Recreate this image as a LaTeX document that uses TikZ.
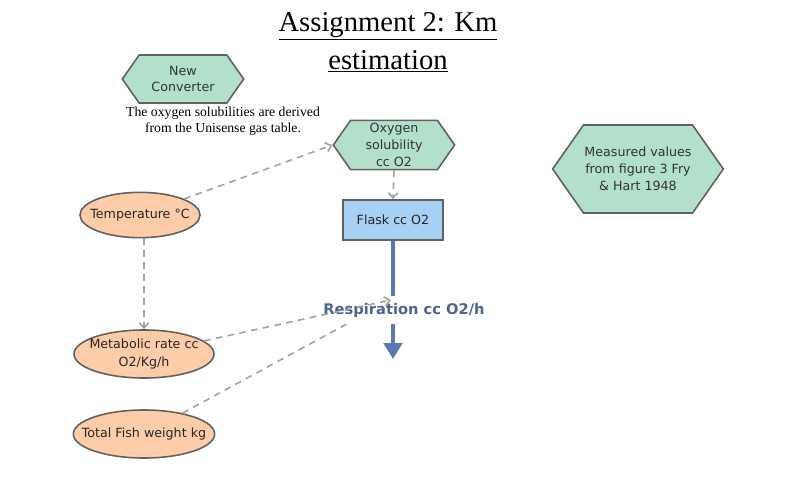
\documentclass[tikz,border=0pt]{standalone}
\usepackage{fontspec}
\setmainfont{Liberation Serif}
\newfontfamily\nodefont{DejaVu Sans}
\usetikzlibrary{shapes.geometric,shapes.symbols,arrows.meta}
\definecolor{hexfill}{HTML}{B3E0CB}
\definecolor{ellfill}{HTML}{FDCDA9}
\definecolor{boxfill}{HTML}{A7D0F5}
\definecolor{edgegray}{HTML}{626262}
\definecolor{dashgray}{HTML}{A3A3A3}
\definecolor{flowblue}{HTML}{5A78B6}
\definecolor{labelblue}{HTML}{4E6592}
\tikzset{
  hexnode/.style={shape=signal, signal to=west and east, signal pointer angle=110,
    draw=edgegray, line width=1.2pt, fill=hexfill, inner sep=0pt, align=center,
    font=\nodefont\fontsize{9.5}{12.5}\selectfont, text=black!80},
  ellnode/.style={ellipse, draw=edgegray, line width=1.2pt, fill=ellfill, inner sep=0pt,
    align=center, font=\nodefont\fontsize{9.5}{14}\selectfont, text=black!85},
  boxnode/.style={rectangle, draw=edgegray, line width=1.2pt, fill=boxfill, align=center,
    font=\nodefont\fontsize{9.5}{12}\selectfont, text=black!85},
  link/.style={draw=dashgray, line width=1.2pt, dashed, dash pattern=on 5pt off 4pt,
    -{Straight Barb[length=4pt,width=7pt]}},
  link0/.style={draw=dashgray, line width=1.2pt, dashed, dash pattern=on 5pt off 4pt},
  flow/.style={draw=flowblue, line width=2.4pt, -{Triangle[length=12pt,width=14pt]}},
}
\begin{document}
\begin{tikzpicture}[x=0.75pt,y=-0.75pt]
\useasboundingbox (0,0) rectangle (800,485);
% title
\node[font=\fontsize{21.5}{28.5}\selectfont, align=center] (title) at (388,42)
  {\underline{Assignment 2: Km}\\\underline{estimation}};
% nodes
\node[hexnode, minimum width=91pt, minimum height=36pt] (conv) at (183,79) {New\\Converter};
\node[font=\fontsize{10.3}{12}\selectfont, align=center] (note) at (223,121)
  {The oxygen solubilities are derived\\from the Unisense gas table.};
\node[hexnode, minimum width=91pt, minimum height=37pt, font=\nodefont\fontsize{9.5}{12.8}\selectfont] (oxy) at (394,145) {Oxygen\\solubility\\cc O2};
\node[boxnode, minimum width=75pt, minimum height=30pt] (flask) at (393,220) {Flask cc O2};
\node[hexnode, minimum width=128pt, minimum height=66pt, font=\nodefont\fontsize{9.5}{12.75}\selectfont] (meas) at (638,169) {Measured values\\from figure 3 Fry\\\& Hart 1948};
\node[ellnode, minimum width=90pt, minimum height=34pt, inner xsep=-6pt] (temp) at (140,215) {Temperature °C};
\node[ellnode, minimum width=105pt, minimum height=36pt, inner xsep=-6pt, inner ysep=-4pt] (meta) at (144,354) {Metabolic rate cc\\O2/Kg/h};
\node[ellnode, minimum width=106pt, minimum height=36pt, inner xsep=-12pt] (fish) at (144,434) {Total Fish weight kg};
% flow
\coordinate (sink) at (393,359);
\coordinate (rate) at (391,300);
\draw[flow] (flask.south) -- (sink);
\draw[link0] (fish) -- (rate);
\node[font=\nodefont\bfseries\fontsize{11}{12}\selectfont, text=labelblue, fill=white,
  inner xsep=1pt, inner ysep=5pt] (resp) at (404,310) {Respiration cc O2/h};
% links
\draw[link] (temp) -- (oxy.west);
\draw[link] (oxy.south) -- (flask.north);
\draw[link] (meta.north |- temp.south) -- (meta.north);
\draw[link] (meta) -- (rate);
\end{tikzpicture}
\end{document}
